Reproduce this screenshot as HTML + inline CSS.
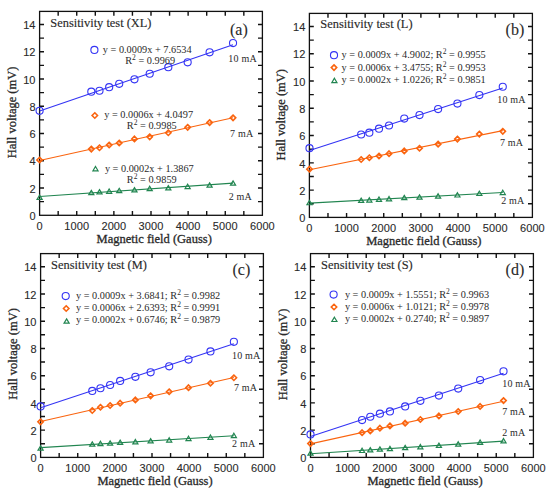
<!DOCTYPE html>
<html><head><meta charset="utf-8"><style>
html,body{margin:0;padding:0;background:#fff;}
svg{display:block;}
.tk{font-family:"Liberation Sans",sans-serif;font-size:11px;fill:#2a2a2a;stroke:#2a2a2a;stroke-width:0.1px;letter-spacing:0.1px;}
.ax{font-family:"Liberation Serif",serif;font-size:12.5px;fill:#2a2a2a;stroke:#2a2a2a;stroke-width:0.3px;}
.lg{font-family:"Liberation Serif",serif;font-size:10.3px;fill:#2a2a2a;}
.ti{font-family:"Liberation Serif",serif;font-size:12.4px;fill:#2a2a2a;stroke:#2a2a2a;stroke-width:0.15px;}
.tg{font-family:"Liberation Serif",serif;font-size:16px;fill:#2a2a2a;stroke:#2a2a2a;stroke-width:0.1px;}
.lb{font-family:"Liberation Serif",serif;font-size:10px;fill:#2a2a2a;letter-spacing:0.2px;}
.sup{font-size:7.5px;}
</style></head><body>
<svg width="550" height="489" viewBox="0 0 550 489">
<rect width="550" height="489" fill="#fff"/>
<rect x="39.6" y="11.4" width="222.8" height="203.9" fill="none" stroke="#111" stroke-width="1.3"/>
<path d="M58.17 215.3v-4.4M58.17 11.4v4.4M76.73 215.3v-4.4M76.73 11.4v4.4M95.3 215.3v-4.4M95.3 11.4v4.4M113.87 215.3v-4.4M113.87 11.4v4.4M132.43 215.3v-4.4M132.43 11.4v4.4M151 215.3v-4.4M151 11.4v4.4M169.57 215.3v-4.4M169.57 11.4v4.4M188.13 215.3v-4.4M188.13 11.4v4.4M206.7 215.3v-4.4M206.7 11.4v4.4M225.27 215.3v-4.4M225.27 11.4v4.4M243.83 215.3v-4.4M243.83 11.4v4.4M39.6 201.67h4.4M262.4 201.67h-4.4M39.6 188.04h4.4M262.4 188.04h-4.4M39.6 174.41h4.4M262.4 174.41h-4.4M39.6 160.78h4.4M262.4 160.78h-4.4M39.6 147.15h4.4M262.4 147.15h-4.4M39.6 133.52h4.4M262.4 133.52h-4.4M39.6 119.89h4.4M262.4 119.89h-4.4M39.6 106.26h4.4M262.4 106.26h-4.4M39.6 92.63h4.4M262.4 92.63h-4.4M39.6 79h4.4M262.4 79h-4.4M39.6 65.37h4.4M262.4 65.37h-4.4M39.6 51.74h4.4M262.4 51.74h-4.4M39.6 38.11h4.4M262.4 38.11h-4.4M39.6 24.48h4.4M262.4 24.48h-4.4" stroke="#111" stroke-width="1.4" fill="none"/>
<text class="tk" x="39.6" y="229.5" text-anchor="middle">0</text>
<text class="tk" x="76.73" y="229.5" text-anchor="middle">1000</text>
<text class="tk" x="113.87" y="229.5" text-anchor="middle">2000</text>
<text class="tk" x="151" y="229.5" text-anchor="middle">3000</text>
<text class="tk" x="188.13" y="229.5" text-anchor="middle">4000</text>
<text class="tk" x="225.27" y="229.5" text-anchor="middle">5000</text>
<text class="tk" x="262.4" y="229.5" text-anchor="middle">6000</text>
<text class="tk" x="35.6" y="220" text-anchor="end">0</text>
<text class="tk" x="35.6" y="192.74" text-anchor="end">2</text>
<text class="tk" x="35.6" y="165.48" text-anchor="end">4</text>
<text class="tk" x="35.6" y="138.22" text-anchor="end">6</text>
<text class="tk" x="35.6" y="110.96" text-anchor="end">8</text>
<text class="tk" x="35.6" y="83.7" text-anchor="end">10</text>
<text class="tk" x="35.6" y="56.44" text-anchor="end">12</text>
<text class="tk" x="35.6" y="29.18" text-anchor="end">14</text>
<text class="ax" x="154.2" y="242.5" text-anchor="middle">Magnetic field (Gauss)</text>
<text class="ax" transform="translate(16 112.4) rotate(-90)" text-anchor="middle">Hall voltage (mV)</text>
<line x1="39.6" y1="196.49" x2="233.04" y2="183.15" stroke="#218550" stroke-width="1.1"/>
<path d="M39.6 195.11l2.55 4.3h-5.1z" fill="none" stroke="#218550" stroke-width="1.2"/>
<path d="M91.31 190.35l2.55 4.3h-5.1z" fill="none" stroke="#218550" stroke-width="1.2"/>
<path d="M99.49 189.67l2.55 4.3h-5.1z" fill="none" stroke="#218550" stroke-width="1.2"/>
<path d="M109.16 188.99l2.55 4.3h-5.1z" fill="none" stroke="#218550" stroke-width="1.2"/>
<path d="M119.21 188.31l2.55 4.3h-5.1z" fill="none" stroke="#218550" stroke-width="1.2"/>
<path d="M134.46 187.63l2.55 4.3h-5.1z" fill="none" stroke="#218550" stroke-width="1.2"/>
<path d="M149.71 186.27l2.55 4.3h-5.1z" fill="none" stroke="#218550" stroke-width="1.2"/>
<path d="M168.31 185.59l2.55 4.3h-5.1z" fill="none" stroke="#218550" stroke-width="1.2"/>
<path d="M187.66 184.23l2.55 4.3h-5.1z" fill="none" stroke="#218550" stroke-width="1.2"/>
<path d="M209.6 182.87l2.55 4.3h-5.1z" fill="none" stroke="#218550" stroke-width="1.2"/>
<path d="M233.04 180.82l2.55 4.3h-5.1z" fill="none" stroke="#218550" stroke-width="1.2"/>
<line x1="39.6" y1="160.44" x2="233.04" y2="117.82" stroke="#fa640f" stroke-width="1.1"/>
<path d="M39.6 157.29l2.7 2.7l-2.7 2.7l-2.7 -2.7z" fill="none" stroke="#fa640f" stroke-width="1.6"/>
<path d="M91.31 146.41l2.7 2.7l-2.7 2.7l-2.7 -2.7z" fill="none" stroke="#fa640f" stroke-width="1.6"/>
<path d="M99.49 145.05l2.7 2.7l-2.7 2.7l-2.7 -2.7z" fill="none" stroke="#fa640f" stroke-width="1.6"/>
<path d="M109.16 142.33l2.7 2.7l-2.7 2.7l-2.7 -2.7z" fill="none" stroke="#fa640f" stroke-width="1.6"/>
<path d="M119.21 140.28l2.7 2.7l-2.7 2.7l-2.7 -2.7z" fill="none" stroke="#fa640f" stroke-width="1.6"/>
<path d="M134.46 136.2l2.7 2.7l-2.7 2.7l-2.7 -2.7z" fill="none" stroke="#fa640f" stroke-width="1.6"/>
<path d="M149.71 134.16l2.7 2.7l-2.7 2.7l-2.7 -2.7z" fill="none" stroke="#fa640f" stroke-width="1.6"/>
<path d="M168.31 130.08l2.7 2.7l-2.7 2.7l-2.7 -2.7z" fill="none" stroke="#fa640f" stroke-width="1.6"/>
<path d="M187.66 124.64l2.7 2.7l-2.7 2.7l-2.7 -2.7z" fill="none" stroke="#fa640f" stroke-width="1.6"/>
<path d="M209.6 119.87l2.7 2.7l-2.7 2.7l-2.7 -2.7z" fill="none" stroke="#fa640f" stroke-width="1.6"/>
<path d="M233.04 115.11l2.7 2.7l-2.7 2.7l-2.7 -2.7z" fill="none" stroke="#fa640f" stroke-width="1.6"/>
<line x1="39.6" y1="111" x2="233.04" y2="44.76" stroke="#3434f4" stroke-width="1.1"/>
<circle cx="39.6" cy="110.87" r="3.55" fill="none" stroke="#3434f4" stroke-width="1.1"/>
<circle cx="91.31" cy="91.69" r="3.55" fill="none" stroke="#3434f4" stroke-width="1.1"/>
<circle cx="99.49" cy="90.74" r="3.55" fill="none" stroke="#3434f4" stroke-width="1.1"/>
<circle cx="109.16" cy="87.2" r="3.55" fill="none" stroke="#3434f4" stroke-width="1.1"/>
<circle cx="119.21" cy="83.8" r="3.55" fill="none" stroke="#3434f4" stroke-width="1.1"/>
<circle cx="134.46" cy="79.31" r="3.55" fill="none" stroke="#3434f4" stroke-width="1.1"/>
<circle cx="149.71" cy="73.73" r="3.55" fill="none" stroke="#3434f4" stroke-width="1.1"/>
<circle cx="168.31" cy="67.2" r="3.55" fill="none" stroke="#3434f4" stroke-width="1.1"/>
<circle cx="187.66" cy="62.3" r="3.55" fill="none" stroke="#3434f4" stroke-width="1.1"/>
<circle cx="209.6" cy="52.36" r="3.55" fill="none" stroke="#3434f4" stroke-width="1.1"/>
<circle cx="233.04" cy="43.11" r="3.55" fill="none" stroke="#3434f4" stroke-width="1.1"/>
<text class="ti" x="50.3" y="26.6">Sensitivity test (XL)</text>
<text class="tg" x="230" y="35.3">(a)</text>
<circle cx="94.4" cy="49.9" r="3.55" fill="none" stroke="#3434f4" stroke-width="1.1"/>
<text class="lg" x="102.8" y="52.5">y = 0.0009x + 7.6534</text>
<text class="lg" x="125.2" y="63.7">R<tspan class="sup" dy="-4">2</tspan><tspan dy="4"> = 0.9969</tspan></text>
<path d="M94.8 112.8l2.7 2.7l-2.7 2.7l-2.7 -2.7z" fill="none" stroke="#fa640f" stroke-width="1.6"/>
<text class="lg" x="104.2" y="118">y = 0.0006x + 4.0497</text>
<text class="lg" x="126.8" y="129">R<tspan class="sup" dy="-4">2</tspan><tspan dy="4"> = 0.9985</tspan></text>
<path d="M95.5 166.5l2.55 4.3h-5.1z" fill="none" stroke="#218550" stroke-width="1.2"/>
<text class="lg" x="104.9" y="171.5">y = 0.0002x + 1.3867</text>
<text class="lg" x="126.8" y="182.8">R<tspan class="sup" dy="-4">2</tspan><tspan dy="4"> = 0.9859</tspan></text>
<text class="lb" x="228.3" y="61.6">10 mA</text>
<text class="lb" x="230.1" y="137.2">7 mA</text>
<text class="lb" x="228.7" y="200">2 mA</text>
<rect x="309.4" y="13.4" width="223" height="204" fill="none" stroke="#111" stroke-width="1.3"/>
<path d="M327.98 217.4v-4.4M327.98 13.4v4.4M346.57 217.4v-4.4M346.57 13.4v4.4M365.15 217.4v-4.4M365.15 13.4v4.4M383.73 217.4v-4.4M383.73 13.4v4.4M402.32 217.4v-4.4M402.32 13.4v4.4M420.9 217.4v-4.4M420.9 13.4v4.4M439.48 217.4v-4.4M439.48 13.4v4.4M458.07 217.4v-4.4M458.07 13.4v4.4M476.65 217.4v-4.4M476.65 13.4v4.4M495.23 217.4v-4.4M495.23 13.4v4.4M513.82 217.4v-4.4M513.82 13.4v4.4M309.4 203.76h4.4M532.4 203.76h-4.4M309.4 190.12h4.4M532.4 190.12h-4.4M309.4 176.48h4.4M532.4 176.48h-4.4M309.4 162.84h4.4M532.4 162.84h-4.4M309.4 149.2h4.4M532.4 149.2h-4.4M309.4 135.56h4.4M532.4 135.56h-4.4M309.4 121.92h4.4M532.4 121.92h-4.4M309.4 108.28h4.4M532.4 108.28h-4.4M309.4 94.64h4.4M532.4 94.64h-4.4M309.4 81h4.4M532.4 81h-4.4M309.4 67.36h4.4M532.4 67.36h-4.4M309.4 53.72h4.4M532.4 53.72h-4.4M309.4 40.08h4.4M532.4 40.08h-4.4M309.4 26.44h4.4M532.4 26.44h-4.4" stroke="#111" stroke-width="1.4" fill="none"/>
<text class="tk" x="309.4" y="231.6" text-anchor="middle">0</text>
<text class="tk" x="346.57" y="231.6" text-anchor="middle">1000</text>
<text class="tk" x="383.73" y="231.6" text-anchor="middle">2000</text>
<text class="tk" x="420.9" y="231.6" text-anchor="middle">3000</text>
<text class="tk" x="458.07" y="231.6" text-anchor="middle">4000</text>
<text class="tk" x="495.23" y="231.6" text-anchor="middle">5000</text>
<text class="tk" x="532.4" y="231.6" text-anchor="middle">6000</text>
<text class="tk" x="305.4" y="222.1" text-anchor="end">0</text>
<text class="tk" x="305.4" y="194.82" text-anchor="end">2</text>
<text class="tk" x="305.4" y="167.54" text-anchor="end">4</text>
<text class="tk" x="305.4" y="140.26" text-anchor="end">6</text>
<text class="tk" x="305.4" y="112.98" text-anchor="end">8</text>
<text class="tk" x="305.4" y="85.7" text-anchor="end">10</text>
<text class="tk" x="305.4" y="58.42" text-anchor="end">12</text>
<text class="tk" x="305.4" y="31.14" text-anchor="end">14</text>
<text class="ax" x="423.8" y="244.6" text-anchor="middle">Magnetic field (Gauss)</text>
<text class="ax" transform="translate(284.7 114.8) rotate(-90)" text-anchor="middle">Hall voltage (mV)</text>
<line x1="309.5" y1="203.08" x2="502.77" y2="192.5" stroke="#218550" stroke-width="1.1"/>
<path d="M309.5 200.45l2.55 4.3h-5.1z" fill="none" stroke="#218550" stroke-width="1.2"/>
<path d="M361.16 198.14l2.55 4.3h-5.1z" fill="none" stroke="#218550" stroke-width="1.2"/>
<path d="M369.34 197.73l2.55 4.3h-5.1z" fill="none" stroke="#218550" stroke-width="1.2"/>
<path d="M379 197.05l2.55 4.3h-5.1z" fill="none" stroke="#218550" stroke-width="1.2"/>
<path d="M389.04 196.5l2.55 4.3h-5.1z" fill="none" stroke="#218550" stroke-width="1.2"/>
<path d="M404.27 195.42l2.55 4.3h-5.1z" fill="none" stroke="#218550" stroke-width="1.2"/>
<path d="M419.51 194.87l2.55 4.3h-5.1z" fill="none" stroke="#218550" stroke-width="1.2"/>
<path d="M438.1 193.78l2.55 4.3h-5.1z" fill="none" stroke="#218550" stroke-width="1.2"/>
<path d="M457.42 192.7l2.55 4.3h-5.1z" fill="none" stroke="#218550" stroke-width="1.2"/>
<path d="M479.35 191.2l2.55 4.3h-5.1z" fill="none" stroke="#218550" stroke-width="1.2"/>
<path d="M502.77 190.25l2.55 4.3h-5.1z" fill="none" stroke="#218550" stroke-width="1.2"/>
<line x1="309.5" y1="169.78" x2="502.77" y2="130.64" stroke="#fa640f" stroke-width="1.1"/>
<path d="M309.5 166.46l2.7 2.7l-2.7 2.7l-2.7 -2.7z" fill="none" stroke="#fa640f" stroke-width="1.6"/>
<path d="M361.16 156.8l2.7 2.7l-2.7 2.7l-2.7 -2.7z" fill="none" stroke="#fa640f" stroke-width="1.6"/>
<path d="M369.34 155.03l2.7 2.7l-2.7 2.7l-2.7 -2.7z" fill="none" stroke="#fa640f" stroke-width="1.6"/>
<path d="M379 153.26l2.7 2.7l-2.7 2.7l-2.7 -2.7z" fill="none" stroke="#fa640f" stroke-width="1.6"/>
<path d="M389.04 150.95l2.7 2.7l-2.7 2.7l-2.7 -2.7z" fill="none" stroke="#fa640f" stroke-width="1.6"/>
<path d="M404.27 148.23l2.7 2.7l-2.7 2.7l-2.7 -2.7z" fill="none" stroke="#fa640f" stroke-width="1.6"/>
<path d="M419.51 145.51l2.7 2.7l-2.7 2.7l-2.7 -2.7z" fill="none" stroke="#fa640f" stroke-width="1.6"/>
<path d="M438.1 141.43l2.7 2.7l-2.7 2.7l-2.7 -2.7z" fill="none" stroke="#fa640f" stroke-width="1.6"/>
<path d="M457.42 136.4l2.7 2.7l-2.7 2.7l-2.7 -2.7z" fill="none" stroke="#fa640f" stroke-width="1.6"/>
<path d="M479.35 131.37l2.7 2.7l-2.7 2.7l-2.7 -2.7z" fill="none" stroke="#fa640f" stroke-width="1.6"/>
<path d="M502.77 128.65l2.7 2.7l-2.7 2.7l-2.7 -2.7z" fill="none" stroke="#fa640f" stroke-width="1.6"/>
<line x1="309.5" y1="150.44" x2="502.77" y2="87.95" stroke="#3434f4" stroke-width="1.1"/>
<circle cx="309.5" cy="148.21" r="3.55" fill="none" stroke="#3434f4" stroke-width="1.1"/>
<circle cx="361.16" cy="134.48" r="3.55" fill="none" stroke="#3434f4" stroke-width="1.1"/>
<circle cx="369.34" cy="132.71" r="3.55" fill="none" stroke="#3434f4" stroke-width="1.1"/>
<circle cx="379" cy="128.63" r="3.55" fill="none" stroke="#3434f4" stroke-width="1.1"/>
<circle cx="389.04" cy="125.5" r="3.55" fill="none" stroke="#3434f4" stroke-width="1.1"/>
<circle cx="404.27" cy="118.56" r="3.55" fill="none" stroke="#3434f4" stroke-width="1.1"/>
<circle cx="419.51" cy="115.03" r="3.55" fill="none" stroke="#3434f4" stroke-width="1.1"/>
<circle cx="438.1" cy="109.04" r="3.55" fill="none" stroke="#3434f4" stroke-width="1.1"/>
<circle cx="457.42" cy="103.6" r="3.55" fill="none" stroke="#3434f4" stroke-width="1.1"/>
<circle cx="479.35" cy="95.04" r="3.55" fill="none" stroke="#3434f4" stroke-width="1.1"/>
<circle cx="502.77" cy="86.74" r="3.55" fill="none" stroke="#3434f4" stroke-width="1.1"/>
<text class="ti" x="320.3" y="28.2">Sensitivity test (L)</text>
<text class="tg" x="505.6" y="35.3">(b)</text>
<circle cx="334" cy="55.2" r="3.55" fill="none" stroke="#3434f4" stroke-width="1.1"/>
<text class="lg" x="341.6" y="58">y = 0.0009x + 4.9002; R<tspan class="sup" dy="-4">2</tspan><tspan dy="4"> = 0.9955</tspan></text>
<path d="M334 64.9l2.7 2.7l-2.7 2.7l-2.7 -2.7z" fill="none" stroke="#fa640f" stroke-width="1.6"/>
<text class="lg" x="341.6" y="70.6">y = 0.0006x + 3.4755; R<tspan class="sup" dy="-4">2</tspan><tspan dy="4"> = 0.9953</tspan></text>
<path d="M334.4 78.3l2.55 4.3h-5.1z" fill="none" stroke="#218550" stroke-width="1.2"/>
<text class="lg" x="341.6" y="83.2">y = 0.0002x + 1.0226; R<tspan class="sup" dy="-4">2</tspan><tspan dy="4"> = 0.9851</tspan></text>
<text class="lb" x="497.2" y="102.6">10 mA</text>
<text class="lb" x="499.9" y="145.6">7 mA</text>
<text class="lb" x="501.2" y="204.4">2 mA</text>
<rect x="40.6" y="253.6" width="222.8" height="203.8" fill="none" stroke="#111" stroke-width="1.3"/>
<path d="M59.17 457.4v-4.4M59.17 253.6v4.4M77.73 457.4v-4.4M77.73 253.6v4.4M96.3 457.4v-4.4M96.3 253.6v4.4M114.87 457.4v-4.4M114.87 253.6v4.4M133.43 457.4v-4.4M133.43 253.6v4.4M152 457.4v-4.4M152 253.6v4.4M170.57 457.4v-4.4M170.57 253.6v4.4M189.13 457.4v-4.4M189.13 253.6v4.4M207.7 457.4v-4.4M207.7 253.6v4.4M226.27 457.4v-4.4M226.27 253.6v4.4M244.83 457.4v-4.4M244.83 253.6v4.4M40.6 443.78h4.4M263.4 443.78h-4.4M40.6 430.16h4.4M263.4 430.16h-4.4M40.6 416.54h4.4M263.4 416.54h-4.4M40.6 402.92h4.4M263.4 402.92h-4.4M40.6 389.3h4.4M263.4 389.3h-4.4M40.6 375.68h4.4M263.4 375.68h-4.4M40.6 362.06h4.4M263.4 362.06h-4.4M40.6 348.44h4.4M263.4 348.44h-4.4M40.6 334.82h4.4M263.4 334.82h-4.4M40.6 321.2h4.4M263.4 321.2h-4.4M40.6 307.58h4.4M263.4 307.58h-4.4M40.6 293.96h4.4M263.4 293.96h-4.4M40.6 280.34h4.4M263.4 280.34h-4.4M40.6 266.72h4.4M263.4 266.72h-4.4" stroke="#111" stroke-width="1.4" fill="none"/>
<text class="tk" x="40.6" y="471.6" text-anchor="middle">0</text>
<text class="tk" x="77.73" y="471.6" text-anchor="middle">1000</text>
<text class="tk" x="114.87" y="471.6" text-anchor="middle">2000</text>
<text class="tk" x="152" y="471.6" text-anchor="middle">3000</text>
<text class="tk" x="189.13" y="471.6" text-anchor="middle">4000</text>
<text class="tk" x="226.27" y="471.6" text-anchor="middle">5000</text>
<text class="tk" x="263.4" y="471.6" text-anchor="middle">6000</text>
<text class="tk" x="36.6" y="462.1" text-anchor="end">0</text>
<text class="tk" x="36.6" y="434.86" text-anchor="end">2</text>
<text class="tk" x="36.6" y="407.62" text-anchor="end">4</text>
<text class="tk" x="36.6" y="380.38" text-anchor="end">6</text>
<text class="tk" x="36.6" y="353.14" text-anchor="end">8</text>
<text class="tk" x="36.6" y="325.9" text-anchor="end">10</text>
<text class="tk" x="36.6" y="298.66" text-anchor="end">12</text>
<text class="tk" x="36.6" y="271.42" text-anchor="end">14</text>
<text class="ax" x="155" y="485.2" text-anchor="middle">Magnetic field (Gauss)</text>
<text class="ax" transform="translate(17 354) rotate(-90)" text-anchor="middle">Hall voltage (mV)</text>
<line x1="40.6" y1="447.64" x2="233.87" y2="435.69" stroke="#218550" stroke-width="1.1"/>
<path d="M40.6 445.92l2.55 4.3h-5.1z" fill="none" stroke="#218550" stroke-width="1.2"/>
<path d="M92.26 441.84l2.55 4.3h-5.1z" fill="none" stroke="#218550" stroke-width="1.2"/>
<path d="M100.44 441.29l2.55 4.3h-5.1z" fill="none" stroke="#218550" stroke-width="1.2"/>
<path d="M110.1 440.88l2.55 4.3h-5.1z" fill="none" stroke="#218550" stroke-width="1.2"/>
<path d="M120.14 440.07l2.55 4.3h-5.1z" fill="none" stroke="#218550" stroke-width="1.2"/>
<path d="M135.38 439.52l2.55 4.3h-5.1z" fill="none" stroke="#218550" stroke-width="1.2"/>
<path d="M150.61 438.57l2.55 4.3h-5.1z" fill="none" stroke="#218550" stroke-width="1.2"/>
<path d="M169.2 437.76l2.55 4.3h-5.1z" fill="none" stroke="#218550" stroke-width="1.2"/>
<path d="M188.52 436.26l2.55 4.3h-5.1z" fill="none" stroke="#218550" stroke-width="1.2"/>
<path d="M210.45 435.04l2.55 4.3h-5.1z" fill="none" stroke="#218550" stroke-width="1.2"/>
<path d="M233.87 433.27l2.55 4.3h-5.1z" fill="none" stroke="#218550" stroke-width="1.2"/>
<line x1="40.6" y1="421.51" x2="233.87" y2="377.43" stroke="#fa640f" stroke-width="1.1"/>
<path d="M40.6 419.13l2.7 2.7l-2.7 2.7l-2.7 -2.7z" fill="none" stroke="#fa640f" stroke-width="1.6"/>
<path d="M92.26 407.84l2.7 2.7l-2.7 2.7l-2.7 -2.7z" fill="none" stroke="#fa640f" stroke-width="1.6"/>
<path d="M100.44 404.58l2.7 2.7l-2.7 2.7l-2.7 -2.7z" fill="none" stroke="#fa640f" stroke-width="1.6"/>
<path d="M110.1 402.81l2.7 2.7l-2.7 2.7l-2.7 -2.7z" fill="none" stroke="#fa640f" stroke-width="1.6"/>
<path d="M120.14 400.5l2.7 2.7l-2.7 2.7l-2.7 -2.7z" fill="none" stroke="#fa640f" stroke-width="1.6"/>
<path d="M135.38 397.24l2.7 2.7l-2.7 2.7l-2.7 -2.7z" fill="none" stroke="#fa640f" stroke-width="1.6"/>
<path d="M150.61 393.16l2.7 2.7l-2.7 2.7l-2.7 -2.7z" fill="none" stroke="#fa640f" stroke-width="1.6"/>
<path d="M169.2 389.08l2.7 2.7l-2.7 2.7l-2.7 -2.7z" fill="none" stroke="#fa640f" stroke-width="1.6"/>
<path d="M188.52 385l2.7 2.7l-2.7 2.7l-2.7 -2.7z" fill="none" stroke="#fa640f" stroke-width="1.6"/>
<path d="M210.45 380.51l2.7 2.7l-2.7 2.7l-2.7 -2.7z" fill="none" stroke="#fa640f" stroke-width="1.6"/>
<path d="M233.87 375.07l2.7 2.7l-2.7 2.7l-2.7 -2.7z" fill="none" stroke="#fa640f" stroke-width="1.6"/>
<line x1="40.6" y1="407.8" x2="233.87" y2="343.79" stroke="#3434f4" stroke-width="1.1"/>
<circle cx="40.6" cy="406.46" r="3.55" fill="none" stroke="#3434f4" stroke-width="1.1"/>
<circle cx="92.26" cy="390.96" r="3.55" fill="none" stroke="#3434f4" stroke-width="1.1"/>
<circle cx="100.44" cy="388.24" r="3.55" fill="none" stroke="#3434f4" stroke-width="1.1"/>
<circle cx="110.1" cy="384.98" r="3.55" fill="none" stroke="#3434f4" stroke-width="1.1"/>
<circle cx="120.14" cy="380.9" r="3.55" fill="none" stroke="#3434f4" stroke-width="1.1"/>
<circle cx="135.38" cy="376.82" r="3.55" fill="none" stroke="#3434f4" stroke-width="1.1"/>
<circle cx="150.61" cy="372.33" r="3.55" fill="none" stroke="#3434f4" stroke-width="1.1"/>
<circle cx="169.2" cy="366.34" r="3.55" fill="none" stroke="#3434f4" stroke-width="1.1"/>
<circle cx="188.52" cy="359.54" r="3.55" fill="none" stroke="#3434f4" stroke-width="1.1"/>
<circle cx="210.45" cy="351.38" r="3.55" fill="none" stroke="#3434f4" stroke-width="1.1"/>
<circle cx="233.87" cy="341.86" r="3.55" fill="none" stroke="#3434f4" stroke-width="1.1"/>
<text class="ti" x="51.1" y="268.6">Sensitivity test (M)</text>
<text class="tg" x="232.5" y="275">(c)</text>
<circle cx="65.7" cy="296.1" r="3.55" fill="none" stroke="#3434f4" stroke-width="1.1"/>
<text class="lg" x="76" y="298.7">y = 0.0009x + 3.6841; R<tspan class="sup" dy="-4">2</tspan><tspan dy="4"> = 0.9982</tspan></text>
<path d="M66.2 305.8l2.7 2.7l-2.7 2.7l-2.7 -2.7z" fill="none" stroke="#fa640f" stroke-width="1.6"/>
<text class="lg" x="76" y="311.2">y = 0.0006x + 2.6393; R<tspan class="sup" dy="-4">2</tspan><tspan dy="4"> = 0.9991</tspan></text>
<path d="M66.6 318.9l2.55 4.3h-5.1z" fill="none" stroke="#218550" stroke-width="1.2"/>
<text class="lg" x="76" y="322.7">y = 0.0002x + 0.6746; R<tspan class="sup" dy="-4">2</tspan><tspan dy="4"> = 0.9879</tspan></text>
<text class="lb" x="232" y="358.5">10 mA</text>
<text class="lb" x="233.9" y="391.2">7 mA</text>
<text class="lb" x="232" y="447">2 mA</text>
<rect x="310.5" y="253.6" width="222.9" height="203.8" fill="none" stroke="#111" stroke-width="1.3"/>
<path d="M329.07 457.4v-4.4M329.07 253.6v4.4M347.65 457.4v-4.4M347.65 253.6v4.4M366.22 457.4v-4.4M366.22 253.6v4.4M384.8 457.4v-4.4M384.8 253.6v4.4M403.38 457.4v-4.4M403.38 253.6v4.4M421.95 457.4v-4.4M421.95 253.6v4.4M440.52 457.4v-4.4M440.52 253.6v4.4M459.1 457.4v-4.4M459.1 253.6v4.4M477.67 457.4v-4.4M477.67 253.6v4.4M496.25 457.4v-4.4M496.25 253.6v4.4M514.82 457.4v-4.4M514.82 253.6v4.4M310.5 443.78h4.4M533.4 443.78h-4.4M310.5 430.16h4.4M533.4 430.16h-4.4M310.5 416.54h4.4M533.4 416.54h-4.4M310.5 402.92h4.4M533.4 402.92h-4.4M310.5 389.3h4.4M533.4 389.3h-4.4M310.5 375.68h4.4M533.4 375.68h-4.4M310.5 362.06h4.4M533.4 362.06h-4.4M310.5 348.44h4.4M533.4 348.44h-4.4M310.5 334.82h4.4M533.4 334.82h-4.4M310.5 321.2h4.4M533.4 321.2h-4.4M310.5 307.58h4.4M533.4 307.58h-4.4M310.5 293.96h4.4M533.4 293.96h-4.4M310.5 280.34h4.4M533.4 280.34h-4.4M310.5 266.72h4.4M533.4 266.72h-4.4" stroke="#111" stroke-width="1.4" fill="none"/>
<text class="tk" x="310.5" y="471.6" text-anchor="middle">0</text>
<text class="tk" x="347.65" y="471.6" text-anchor="middle">1000</text>
<text class="tk" x="384.8" y="471.6" text-anchor="middle">2000</text>
<text class="tk" x="421.95" y="471.6" text-anchor="middle">3000</text>
<text class="tk" x="459.1" y="471.6" text-anchor="middle">4000</text>
<text class="tk" x="496.25" y="471.6" text-anchor="middle">5000</text>
<text class="tk" x="533.4" y="471.6" text-anchor="middle">6000</text>
<text class="tk" x="306.5" y="462.1" text-anchor="end">0</text>
<text class="tk" x="306.5" y="434.86" text-anchor="end">2</text>
<text class="tk" x="306.5" y="407.62" text-anchor="end">4</text>
<text class="tk" x="306.5" y="380.38" text-anchor="end">6</text>
<text class="tk" x="306.5" y="353.14" text-anchor="end">8</text>
<text class="tk" x="306.5" y="325.9" text-anchor="end">10</text>
<text class="tk" x="306.5" y="298.66" text-anchor="end">12</text>
<text class="tk" x="306.5" y="271.42" text-anchor="end">14</text>
<text class="ax" x="425" y="485.2" text-anchor="middle">Magnetic field (Gauss)</text>
<text class="ax" transform="translate(287 354.4) rotate(-90)" text-anchor="middle">Hall voltage (mV)</text>
<line x1="310.5" y1="453.72" x2="503.51" y2="441.09" stroke="#218550" stroke-width="1.1"/>
<path d="M310.5 450.91l2.55 4.3h-5.1z" fill="none" stroke="#218550" stroke-width="1.2"/>
<path d="M362.09 448.19l2.55 4.3h-5.1z" fill="none" stroke="#218550" stroke-width="1.2"/>
<path d="M370.26 447.65l2.55 4.3h-5.1z" fill="none" stroke="#218550" stroke-width="1.2"/>
<path d="M379.91 446.83l2.55 4.3h-5.1z" fill="none" stroke="#218550" stroke-width="1.2"/>
<path d="M389.93 446.42l2.55 4.3h-5.1z" fill="none" stroke="#218550" stroke-width="1.2"/>
<path d="M405.15 445.34l2.55 4.3h-5.1z" fill="none" stroke="#218550" stroke-width="1.2"/>
<path d="M420.37 444.52l2.55 4.3h-5.1z" fill="none" stroke="#218550" stroke-width="1.2"/>
<path d="M438.92 443.16l2.55 4.3h-5.1z" fill="none" stroke="#218550" stroke-width="1.2"/>
<path d="M458.22 441.8l2.55 4.3h-5.1z" fill="none" stroke="#218550" stroke-width="1.2"/>
<path d="M480.12 440.03l2.55 4.3h-5.1z" fill="none" stroke="#218550" stroke-width="1.2"/>
<path d="M503.51 438.54l2.55 4.3h-5.1z" fill="none" stroke="#218550" stroke-width="1.2"/>
<line x1="310.5" y1="443.84" x2="503.51" y2="401.17" stroke="#fa640f" stroke-width="1.1"/>
<path d="M310.5 440.86l2.7 2.7l-2.7 2.7l-2.7 -2.7z" fill="none" stroke="#fa640f" stroke-width="1.6"/>
<path d="M362.09 429.98l2.7 2.7l-2.7 2.7l-2.7 -2.7z" fill="none" stroke="#fa640f" stroke-width="1.6"/>
<path d="M370.26 428.21l2.7 2.7l-2.7 2.7l-2.7 -2.7z" fill="none" stroke="#fa640f" stroke-width="1.6"/>
<path d="M379.91 425.49l2.7 2.7l-2.7 2.7l-2.7 -2.7z" fill="none" stroke="#fa640f" stroke-width="1.6"/>
<path d="M389.93 423.18l2.7 2.7l-2.7 2.7l-2.7 -2.7z" fill="none" stroke="#fa640f" stroke-width="1.6"/>
<path d="M405.15 420.46l2.7 2.7l-2.7 2.7l-2.7 -2.7z" fill="none" stroke="#fa640f" stroke-width="1.6"/>
<path d="M420.37 416.78l2.7 2.7l-2.7 2.7l-2.7 -2.7z" fill="none" stroke="#fa640f" stroke-width="1.6"/>
<path d="M438.92 413.25l2.7 2.7l-2.7 2.7l-2.7 -2.7z" fill="none" stroke="#fa640f" stroke-width="1.6"/>
<path d="M458.22 408.76l2.7 2.7l-2.7 2.7l-2.7 -2.7z" fill="none" stroke="#fa640f" stroke-width="1.6"/>
<path d="M480.12 403.73l2.7 2.7l-2.7 2.7l-2.7 -2.7z" fill="none" stroke="#fa640f" stroke-width="1.6"/>
<path d="M503.51 397.88l2.7 2.7l-2.7 2.7l-2.7 -2.7z" fill="none" stroke="#fa640f" stroke-width="1.6"/>
<line x1="310.5" y1="436.46" x2="503.51" y2="373.16" stroke="#3434f4" stroke-width="1.1"/>
<circle cx="310.5" cy="434.44" r="3.55" fill="none" stroke="#3434f4" stroke-width="1.1"/>
<circle cx="362.09" cy="420.03" r="3.55" fill="none" stroke="#3434f4" stroke-width="1.1"/>
<circle cx="370.26" cy="416.76" r="3.55" fill="none" stroke="#3434f4" stroke-width="1.1"/>
<circle cx="379.91" cy="413.64" r="3.55" fill="none" stroke="#3434f4" stroke-width="1.1"/>
<circle cx="389.93" cy="411.46" r="3.55" fill="none" stroke="#3434f4" stroke-width="1.1"/>
<circle cx="405.15" cy="406.43" r="3.55" fill="none" stroke="#3434f4" stroke-width="1.1"/>
<circle cx="420.37" cy="400.85" r="3.55" fill="none" stroke="#3434f4" stroke-width="1.1"/>
<circle cx="438.92" cy="395.55" r="3.55" fill="none" stroke="#3434f4" stroke-width="1.1"/>
<circle cx="458.22" cy="388.61" r="3.55" fill="none" stroke="#3434f4" stroke-width="1.1"/>
<circle cx="480.12" cy="380.04" r="3.55" fill="none" stroke="#3434f4" stroke-width="1.1"/>
<circle cx="503.51" cy="371.34" r="3.55" fill="none" stroke="#3434f4" stroke-width="1.1"/>
<text class="ti" x="321.1" y="268.6">Sensitivity test (S)</text>
<text class="tg" x="505.6" y="275">(d)</text>
<circle cx="333.6" cy="294.6" r="3.55" fill="none" stroke="#3434f4" stroke-width="1.1"/>
<text class="lg" x="344.9" y="297.6">y = 0.0009x + 1.5551; R<tspan class="sup" dy="-4">2</tspan><tspan dy="4"> = 0.9963</tspan></text>
<path d="M334 304.3l2.7 2.7l-2.7 2.7l-2.7 -2.7z" fill="none" stroke="#fa640f" stroke-width="1.6"/>
<text class="lg" x="344.9" y="309.6">y = 0.0006x + 1.0121; R<tspan class="sup" dy="-4">2</tspan><tspan dy="4"> = 0.9978</tspan></text>
<path d="M334.4 317.2l2.55 4.3h-5.1z" fill="none" stroke="#218550" stroke-width="1.2"/>
<text class="lg" x="344.9" y="321.6">y = 0.0002x + 0.2740; R<tspan class="sup" dy="-4">2</tspan><tspan dy="4"> = 0.9897</tspan></text>
<text class="lb" x="502.2" y="386.6">10 mA</text>
<text class="lb" x="502.2" y="414.8">7 mA</text>
<text class="lb" x="502.2" y="435.7">2 mA</text>
</svg>
</body></html>
